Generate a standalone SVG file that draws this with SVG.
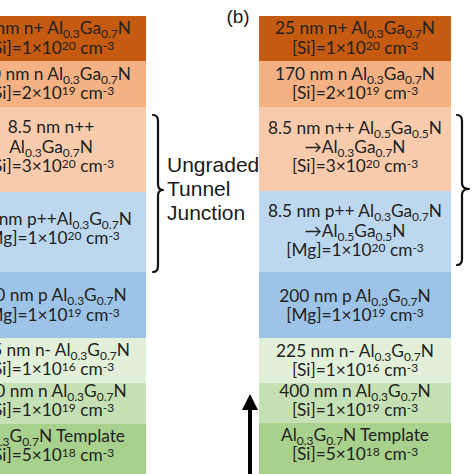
<svg xmlns="http://www.w3.org/2000/svg" width="474" height="474" viewBox="0 0 474 474">
<style>
.t{font-family:Lato,"Open Sans","Liberation Sans",sans-serif;font-size:17.3px;fill:#222;text-anchor:middle}
.b{font-size:12px;baseline-shift:-3.5px}
.p{font-size:12px;baseline-shift:4.5px}
.lbl{font-family:"Liberation Sans",Arial,sans-serif;fill:#1a1a1a}
.br{fill:none;stroke:#111;stroke-width:2.2;stroke-linecap:round;stroke-linejoin:round}
</style>
<rect width="474" height="474" fill="#fff"/>
<!-- Left stack -->
<g id="L1"><rect x="-50" y="16" width="196" height="45" fill="#c55a11"/>
<text class="t" x="51" y="34">25 nm n+ Al<tspan class="b">0.3</tspan>Ga<tspan class="b">0.7</tspan>N</text>
<text class="t" x="51" y="54">[Si]=1×10<tspan class="p">20</tspan> cm<tspan class="p">-3</tspan></text></g>
<g id="L2"><rect x="-50" y="61" width="196" height="46" fill="#f4b183"/>
<text class="t" x="51" y="80">170 nm n Al<tspan class="b">0.3</tspan>Ga<tspan class="b">0.7</tspan>N</text>
<text class="t" x="51" y="99">[Si]=2×10<tspan class="p">19</tspan> cm<tspan class="p">-3</tspan></text></g>
<g id="L3"><rect x="-50" y="107" width="196" height="85" fill="#f8cbad"/>
<text class="t" x="51" y="133">8.5 nm n++</text>
<text class="t" x="51" y="153">Al<tspan class="b">0.3</tspan>Ga<tspan class="b">0.7</tspan>N</text>
<text class="t" x="51" y="172">[Si]=3×10<tspan class="p">20</tspan> cm<tspan class="p">-3</tspan></text></g>
<g id="L4"><rect x="-50" y="192" width="196" height="80" fill="#bdd7ee"/>
<text class="t" x="51" y="225">8.5 nm p++Al<tspan class="b">0.3</tspan>G<tspan class="b">0.7</tspan>N</text>
<text class="t" x="51" y="244">[Mg]=1×10<tspan class="p">20</tspan> cm<tspan class="p">-3</tspan></text></g>
<g id="L5"><rect x="-50" y="272" width="196" height="66" fill="#9dc3e6"/>
<text class="t" x="51" y="301">200 nm p Al<tspan class="b">0.3</tspan>G<tspan class="b">0.7</tspan>N</text>
<text class="t" x="51" y="321">[Mg]=1×10<tspan class="p">19</tspan> cm<tspan class="p">-3</tspan></text></g>
<g id="L6"><rect x="-50" y="338" width="196" height="45" fill="#e2f0d9"/>
<text class="t" x="51" y="356">225 nm n- Al<tspan class="b">0.3</tspan>G<tspan class="b">0.7</tspan>N</text>
<text class="t" x="51" y="375">[Si]=1×10<tspan class="p">16</tspan> cm<tspan class="p">-3</tspan></text></g>
<g id="L7"><rect x="-50" y="383" width="196" height="41" fill="#c5e0b4"/>
<text class="t" x="51" y="397">400 nm n Al<tspan class="b">0.3</tspan>G<tspan class="b">0.7</tspan>N</text>
<text class="t" x="51" y="416">[Si]=1×10<tspan class="p">19</tspan> cm<tspan class="p">-3</tspan></text></g>
<g id="L8"><rect x="-50" y="424" width="196" height="60" fill="#a9d18e"/>
<text class="t" x="51" y="442">Al<tspan class="b">0.3</tspan>G<tspan class="b">0.7</tspan>N Template</text>
<text class="t" x="51" y="461">[Si]=5×10<tspan class="p">18</tspan> cm<tspan class="p">-3</tspan></text></g>
<!-- Right stack -->
<g id="R1"><rect x="259" y="16" width="192" height="45" fill="#c55a11"/>
<text class="t" x="355" y="34">25 nm n+ Al<tspan class="b">0.3</tspan>Ga<tspan class="b">0.7</tspan>N</text>
<text class="t" x="355" y="54">[Si]=1×10<tspan class="p">20</tspan> cm<tspan class="p">-3</tspan></text></g>
<g id="R2"><rect x="259" y="61" width="192" height="46" fill="#f4b183"/>
<text class="t" x="355" y="80">170 nm n Al<tspan class="b">0.3</tspan>Ga<tspan class="b">0.7</tspan>N</text>
<text class="t" x="355" y="99">[Si]=2×10<tspan class="p">19</tspan> cm<tspan class="p">-3</tspan></text></g>
<g id="R3"><rect x="259" y="107" width="192" height="84" fill="#f8cbad"/>
<text class="t" x="355" y="134">8.5 nm n++ Al<tspan class="b">0.5</tspan>Ga<tspan class="b">0.5</tspan>N</text>
<text class="t" x="355" y="153">→Al<tspan class="b">0.3</tspan>Ga<tspan class="b">0.7</tspan>N</text>
<text class="t" x="355" y="172">[Si]=3×10<tspan class="p">20</tspan> cm<tspan class="p">-3</tspan></text></g>
<g id="R4"><rect x="259" y="191" width="192" height="81" fill="#bdd7ee"/>
<text class="t" x="355" y="217">8.5 nm p++ Al<tspan class="b">0.3</tspan>Ga<tspan class="b">0.7</tspan>N</text>
<text class="t" x="355" y="237">→Al<tspan class="b">0.5</tspan>Ga<tspan class="b">0.5</tspan>N</text>
<text class="t" x="355" y="256">[Mg]=1×10<tspan class="p">20</tspan> cm<tspan class="p">-3</tspan></text></g>
<g id="R5"><rect x="259" y="272" width="192" height="66" fill="#9dc3e6"/>
<text class="t" x="355" y="302">200 nm p Al<tspan class="b">0.3</tspan>G<tspan class="b">0.7</tspan>N</text>
<text class="t" x="355" y="321">[Mg]=1×10<tspan class="p">19</tspan> cm<tspan class="p">-3</tspan></text></g>
<g id="R6"><rect x="259" y="338" width="192" height="45" fill="#e2f0d9"/>
<text class="t" x="355" y="357">225 nm n- Al<tspan class="b">0.3</tspan>G<tspan class="b">0.7</tspan>N</text>
<text class="t" x="355" y="376">[Si]=1×10<tspan class="p">16</tspan> cm<tspan class="p">-3</tspan></text></g>
<g id="R7"><rect x="259" y="383" width="192" height="40" fill="#c5e0b4"/>
<text class="t" x="355" y="397">400 nm n Al<tspan class="b">0.3</tspan>G<tspan class="b">0.7</tspan>N</text>
<text class="t" x="355" y="416">[Si]=1×10<tspan class="p">19</tspan> cm<tspan class="p">-3</tspan></text></g>
<g id="R8"><rect x="259" y="423" width="192" height="61" fill="#a9d18e"/>
<text class="t" x="355" y="441">Al<tspan class="b">0.3</tspan>G<tspan class="b">0.7</tspan>N Template</text>
<text class="t" x="355" y="460">[Si]=5×10<tspan class="p">18</tspan> cm<tspan class="p">-3</tspan></text></g>
<!-- Labels -->
<g id="label-b"><text class="lbl" x="238" y="23" font-size="19" text-anchor="middle">(b)</text></g>
<g id="label-tj"><text class="lbl" font-size="21" x="167" y="172">Ungraded</text>
<text class="lbl" font-size="21" x="167" y="196">Tunnel</text>
<text class="lbl" font-size="21" x="167" y="220">Junction</text></g>
<!-- Connectors -->
<g id="connectors">
<path class="br" d="M153,115 Q158,115 158,121 L158,184 Q158,190 163,190 Q158,190 158,196 L158,266 Q158,272 153,272"/>
<path class="br" d="M457,115 Q462,115 462,121 L462,183 Q462,189 469,189 Q462,189 462,195 L462,259 Q462,265 457,265"/>
<path d="M248,474 L248,410 L242,410 L250,394 L258,410 L252,410 L252,474 Z" fill="#000"/>
</g>
</svg>
